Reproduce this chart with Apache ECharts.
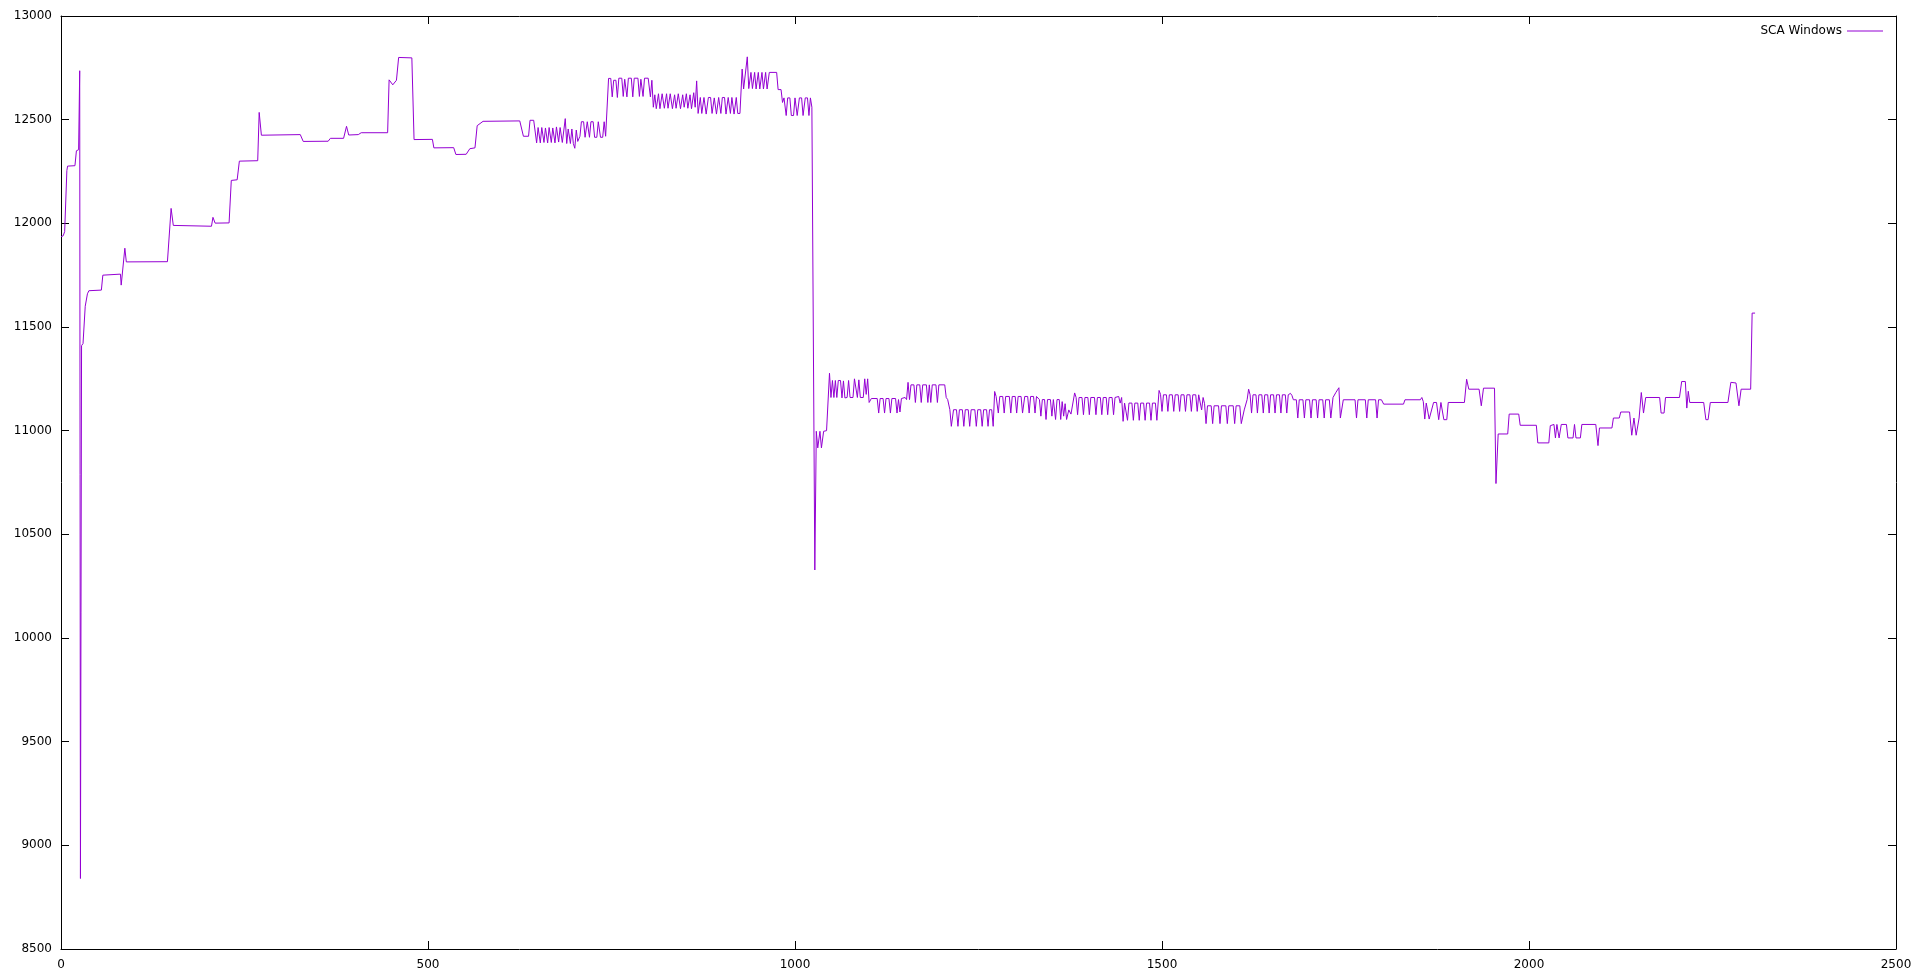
<!DOCTYPE html>
<html>
<head>
<meta charset="utf-8">
<script src="https://cdn.jsdelivr.net/npm/echarts@6/dist/echarts.min.js"></script>
<style>
html,body{margin:0;padding:0;background:#fff;}
#chart{width:1918px;height:980px;}
</style>
</head>
<body>
<div id="chart"></div>
<script>
// Axis ticks
const xTicks = [0, 500, 1000, 1500, 2000, 2500];
const yTicks = [8500, 9000, 9500, 10000, 10500, 11000, 11500, 12000, 12500, 13000];
const seriesName = 'SCA Windows';

// Data, as [x, value] pairs
const segStart = [[0,11935],[3,11940],[5,11960],[8,12255],[9,12276],[19,12278],[21,12350],[24,12355],[25.5,12736],[26.5,8840],[28,11410],[30,11420],[33,11600],[36,11660],[38,11675],[55,11678],[57,11750],[81,11755],[82,11702],[84,11705],[87,11880],[89,11814],[145,11815],[147,11812],[150,12072],[153,11990],[205,11986],[207,12029],[210,12001],[229,12002],[232,12207],[240,12210],[243,12300],[268,12302],[270,12535],[273,12425],[326,12428],[330,12395],[364,12396],[367,12410],[385,12410],[389,12468],[392,12426],[405,12428],[409,12437],[445,12437],[447,12692],[452,12668],[457,12690],[460,12800],[478,12798],[481,12404],[506,12405],[508,12364],[535,12365],[538,12332],[552,12333],[557,12360],[564,12364],[567,12471],[575,12492],[625,12494],[630,12420],[637,12420],[639,12497],[644,12497]];

const segWiggle1 = [[648,12388],[650,12462],[653,12388],[655,12462],[658,12390],[660,12460],[663,12388],[665,12462],[668,12390],[670,12460],[673,12388],[675,12465],[678,12392],[680,12462],[683,12390],[687,12505],[689,12385],[691,12455],[694,12385],[696,12455],[698,12385],[700,12362],[702,12450],[704,12395],[707,12420],[709,12490],[712,12490],[714,12415],[717,12490],[720,12415],[722,12490],[725,12490],[727,12415],[730,12415],[732,12490],[735,12415],[738,12415],[740,12490],[742,12420],[744,12420]];

const segHigh = [[746,12699],[749,12699],[751,12610],[753,12690],[756,12690],[758,12607],[760,12700],[764,12700],[766,12612],[768,12695],[771,12610],[773,12700],[777,12700],[779,12610],[781,12700],[786,12700],[788,12612],[790,12695],[793,12612],[795,12700],[800,12700],[803,12610],[805,12690],[807,12560],[809,12620],[811,12553],[814,12625],[816,12553],[819,12625],[822,12555],[825,12625],[827,12555],[830,12625],[833,12553],[836,12620],[838,12555],[841,12625],[844,12553],[847,12620],[849,12560],[852,12625],[854,12555],[857,12620],[859,12553],[862,12630],[864,12560],[866,12687],[868,12530],[871,12607],[873,12530],[876,12607],[879,12527],[882,12607],[885,12607],[887,12530],[890,12605],[893,12527],[896,12607],[899,12530],[901,12607],[904,12607],[906,12527],[909,12607],[912,12530],[914,12607],[917,12527],[920,12607],[922,12530],[925,12530],[928,12744],[930,12648],[932,12650],[935,12803],[937,12650],[940,12728],[942,12650],[945,12728],[947,12648],[950,12728],[952,12648],[955,12728],[957,12648],[960,12728],[962,12648],[965,12728],[975,12728],[977,12645],[981,12645],[983,12583],[985,12605],[988,12520],[990,12605],[993,12605],[995,12520],[998,12520],[1000,12605],[1003,12520],[1006,12605],[1009,12605],[1011,12520],[1014,12605],[1017,12605],[1019,12520],[1021,12605],[1023,12560]];

const segDrop = [[1027,10328],[1029,10997],[1031,10917],[1034,10997],[1036,10917],[1039,10997],[1043,11000],[1047,11277],[1049,11160],[1051,11242],[1053,11160],[1055,11242],[1057,11160],[1059,11242],[1062,11242],[1064,11158],[1066,11240],[1068,11158],[1071,11160],[1073,11242],[1075,11160],[1079,11160],[1081,11250],[1083,11242],[1085,11160],[1087,11245],[1089,11160],[1093,11160],[1095,11250],[1097,11175],[1099,11250],[1101,11136],[1104,11155],[1112,11155],[1114,11085],[1116,11155],[1120,11155],[1122,11085],[1124,11155],[1128,11155],[1130,11085],[1132,11155],[1137,11155],[1139,11085],[1141,11150],[1143,11090],[1145,11155],[1150,11160],[1152,11150],[1154,11233],[1156,11150],[1158,11221],[1162,11221],[1164,11136],[1166,11221],[1170,11221],[1172,11136],[1174,11221],[1179,11221],[1181,11136],[1183,11221],[1185,11136],[1187,11221],[1192,11221],[1194,11136],[1196,11221],[1204,11221],[1206,11160],[1208,11150],[1211,11101],[1213,11021],[1216,11101],[1220,11101],[1222,11021],[1224,11101],[1228,11101],[1230,11021],[1232,11101],[1236,11101],[1238,11021],[1240,11101],[1245,11101],[1247,11021],[1249,11101],[1253,11101],[1255,11021],[1257,11101],[1261,11101],[1263,11021],[1265,11101],[1268,11101],[1270,11021],[1272,11189]];

const segLow1 = [[1274,11165],[1277,11085],[1279,11165],[1283,11165],[1285,11085],[1287,11165],[1292,11165],[1294,11085],[1296,11165],[1300,11165],[1302,11085],[1304,11165],[1308,11165],[1310,11085],[1313,11165],[1317,11165],[1319,11085],[1321,11165],[1325,11165],[1327,11085],[1329,11165],[1333,11150],[1335,11070],[1337,11150],[1340,11150],[1342,11054],[1344,11150],[1348,11150],[1350,11070],[1352,11150],[1355,11054],[1357,11150],[1360,11150],[1362,11054],[1364,11140],[1366,11070],[1368,11130],[1370,11054],[1373,11100],[1376,11080],[1381,11182],[1383,11160],[1385,11077],[1387,11160],[1391,11160],[1393,11077],[1395,11160],[1399,11160],[1401,11077],[1403,11160],[1408,11160],[1410,11077],[1412,11160],[1416,11160],[1418,11077],[1420,11160],[1424,11160],[1426,11077],[1428,11160],[1432,11160],[1434,11077],[1436,11160],[1441,11165],[1443,11133],[1445,11160],[1447,11045],[1449,11133]];

const segLow2 = [[1451,11133],[1453,11050],[1455,11133],[1459,11133],[1461,11050],[1463,11133],[1467,11133],[1469,11050],[1471,11133],[1475,11133],[1477,11050],[1479,11133],[1483,11133],[1485,11050],[1487,11133],[1491,11133],[1493,11050],[1496,11194],[1498,11175],[1500,11093],[1502,11173],[1506,11173],[1508,11093],[1510,11173],[1514,11173],[1516,11093],[1518,11173],[1522,11173],[1524,11093],[1526,11173],[1530,11173],[1532,11093],[1534,11173],[1538,11173],[1540,11093],[1542,11173],[1546,11173],[1548,11093],[1550,11173],[1552,11173],[1554,11100],[1556,11160],[1558,11130],[1560,11034],[1562,11120],[1567,11120],[1569,11034],[1571,11120],[1577,11120],[1579,11034],[1581,11120],[1587,11120],[1589,11034],[1591,11120],[1597,11120],[1599,11034],[1601,11120],[1606,11120],[1608,11034],[1612,11100],[1616,11150],[1618,11200],[1620,11173],[1622,11085],[1624,11173],[1628,11173],[1630,11085],[1632,11173],[1636,11173],[1638,11085],[1640,11173],[1644,11173],[1646,11085],[1648,11173],[1652,11173],[1654,11085],[1656,11173],[1660,11173],[1662,11085],[1664,11173],[1668,11173],[1670,11085],[1672,11173],[1675,11180],[1677,11170]];

const segLow3 = [[1679,11149],[1683,11149],[1685,11061],[1687,11149],[1692,11149],[1694,11061],[1696,11149],[1701,11149],[1703,11061],[1705,11149],[1710,11149],[1712,11061],[1714,11149],[1719,11149],[1721,11061],[1723,11149],[1728,11149],[1730,11061],[1733,11160],[1737,11185],[1739,11190],[1741,11207],[1743,11061],[1747,11149],[1763,11149],[1765,11061],[1767,11149],[1777,11149],[1779,11061],[1781,11149],[1791,11149],[1793,11061],[1795,11149],[1799,11149],[1802,11128],[1829,11128],[1831,11149],[1852,11149],[1854,11160],[1856,11140],[1858,11056],[1860,11133],[1862,11133],[1864,11056],[1866,11053],[1870,11136],[1874,11136],[1877,11053],[1880,11136],[1884,11053],[1888,11053],[1890,11136],[1912,11136]];

const segEnd = [[1915,11248],[1918,11200],[1932,11200],[1935,11120],[1938,11205],[1953,11205],[1955,10745],[1958,10984],[1971,10984],[1973,11080],[1986,11080],[1988,11026],[2010,11026],[2012,10941],[2027,10941],[2029,11024],[2034,11030],[2036,10965],[2038,11030],[2041,10965],[2044,11030],[2051,11030],[2053,10965],[2060,10965],[2062,11030],[2064,10965],[2070,10965],[2072,11030],[2091,11030],[2094,10928],[2096,11013],[2113,11013],[2115,11061],[2123,11061],[2125,11090],[2137,11090],[2140,10978],[2143,11061],[2146,10978],[2150,11061],[2153,11184],[2156,11085],[2159,11160],[2178,11160],[2180,11085],[2184,11085],[2186,11160],[2205,11160],[2208,11237],[2213,11237],[2215,11109],[2217,11190],[2219,11136],[2238,11136],[2241,11053],[2244,11053],[2247,11136],[2271,11136],[2275,11233],[2282,11230],[2286,11120],[2289,11200],[2302,11200],[2304,11567],[2308,11567]];

const seriesData = [].concat(segStart, segWiggle1, segHigh, segDrop, segLow1, segLow2, segLow3, segEnd);

const FONT = 'DejaVu Sans';
const plainNum = function (v) { return String(v); };
const chart = echarts.init(document.getElementById('chart'), null, {renderer: 'canvas'});
const axisLine = {show: true, onZero: false, lineStyle: {color: '#000', width: 1}};
const tickIn = {show: true, inside: true, length: 8, lineStyle: {color: '#000', width: 1}};
chart.setOption({
  animation: false,
  backgroundColor: '#fff',
  grid: {left: 61, right: 22, top: 16, bottom: 31, containLabel: false},
  legend: {
    show: true,
    right: 30,
    top: 20,
    align: 'right',
    icon: 'rect',
    itemWidth: 36,
    itemHeight: 1,
    itemGap: 8,
    textStyle: {fontFamily: FONT, fontSize: 12, color: '#000'},
    data: [{name: seriesName, icon: 'rect'}]
  },
  xAxis: [
    {type: 'value', position: 'bottom', min: xTicks[0], max: xTicks[xTicks.length - 1], interval: 500,
     axisLine: axisLine, axisTick: tickIn, splitLine: {show: false},
     axisLabel: {fontFamily: FONT, fontSize: 12, color: '#000', margin: 10, formatter: plainNum}},
    {type: 'value', position: 'top', min: xTicks[0], max: xTicks[xTicks.length - 1], interval: 500,
     axisLine: axisLine, axisTick: tickIn, splitLine: {show: false}, axisLabel: {show: false}}
  ],
  yAxis: [
    {type: 'value', position: 'left', min: yTicks[0], max: yTicks[yTicks.length - 1], interval: 500,
     axisLine: axisLine, axisTick: tickIn, splitLine: {show: false},
     axisLabel: {fontFamily: FONT, fontSize: 12, color: '#000', margin: 9, formatter: plainNum}},
    {type: 'value', position: 'right', min: yTicks[0], max: yTicks[yTicks.length - 1], interval: 500,
     axisLine: axisLine, axisTick: tickIn, splitLine: {show: false}, axisLabel: {show: false}}
  ],
  series: [{
    name: seriesName,
    type: 'line',
    data: seriesData,
    xAxisIndex: 0,
    yAxisIndex: 0,
    showSymbol: false,
    symbol: 'none',
    sampling: 'none',
    color: '#9400d3',
    lineStyle: {color: '#9400d3', width: 1},
    itemStyle: {color: '#9400d3'}
  }]
});
</script>
</body>
</html>
